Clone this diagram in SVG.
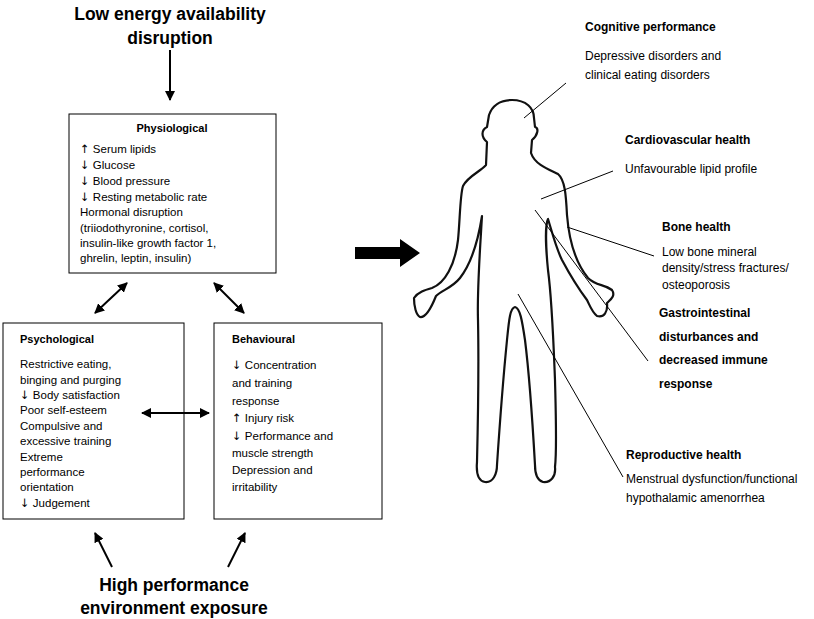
<svg xmlns="http://www.w3.org/2000/svg" width="814" height="619" viewBox="0 0 814 619">
<style>
text{font-family:"Liberation Sans",Arial,sans-serif;fill:#000}
.t{font-size:17.5px;font-weight:bold;text-anchor:middle}
.h{font-size:11px;font-weight:bold}
.b{font-size:11.5px}
.r{font-size:12px}
.rb{font-size:12px;font-weight:bold}
.ar{font-family:"DejaVu Sans",sans-serif;fill:#000}
.box{fill:#fff;stroke:#000;stroke-width:1}
.c{stroke:#000;stroke-width:2;fill:none}
.l{stroke:#000;stroke-width:1;fill:none}
</style>
<defs>
<marker id="a" viewBox="0 0 10 10" refX="9" refY="5" markerWidth="5" markerHeight="5" orient="auto-start-reverse"><path d="M0,0L10,5L0,10z" fill="#000"/></marker>
</defs>
<g id="title-top"><text class="t" x="170" y="20">Low energy availability</text><text class="t" x="170" y="44">disruption</text></g>
<g id="title-bottom"><text class="t" x="174" y="591">High performance</text><text class="t" x="174" y="614">environment exposure</text></g>
<g id="physiological"><rect class="box" x="69" y="114" width="207" height="159"/>
<text class="h" x="172" y="132" text-anchor="middle">Physiological</text>
<text class="b" x="80" y="153"><tspan class="ar">↑</tspan> Serum lipids</text><text class="b" x="80" y="169"><tspan class="ar">↓</tspan> Glucose</text><text class="b" x="80" y="185"><tspan class="ar">↓</tspan> Blood pressure</text><text class="b" x="80" y="201"><tspan class="ar">↓</tspan> Resting metabolic rate</text><text class="b" x="80" y="216">Hormonal disruption</text><text class="b" x="80" y="232">(triiodothyronine, cortisol,</text><text class="b" x="80" y="247">insulin-like growth factor 1,</text><text class="b" x="80" y="262">ghrelin, leptin, insulin)</text></g>
<g id="psychological"><rect class="box" x="3" y="323" width="181" height="196"/>
<text class="h" x="20" y="343">Psychological</text>
<text class="b" x="20" y="368">Restrictive eating,</text><text class="b" x="20" y="384">binging and purging</text><text class="b" x="20" y="399"><tspan class="ar">↓</tspan> Body satisfaction</text><text class="b" x="20" y="414">Poor self-esteem</text><text class="b" x="20" y="430">Compulsive and</text><text class="b" x="20" y="445">excessive training</text><text class="b" x="20" y="461">Extreme</text><text class="b" x="20" y="476">performance</text><text class="b" x="20" y="491">orientation</text><text class="b" x="20" y="507"><tspan class="ar">↓</tspan> Judgement</text></g>
<g id="behavioural"><rect class="box" x="214" y="323" width="168" height="196"/>
<text class="h" x="232" y="343">Behavioural</text>
<text class="b" x="232" y="369"><tspan class="ar">↓</tspan> Concentration</text><text class="b" x="232" y="387">and training</text><text class="b" x="232" y="405">response</text><text class="b" x="232" y="422"><tspan class="ar">↑</tspan> Injury risk</text><text class="b" x="232" y="440"><tspan class="ar">↓</tspan> Performance and</text><text class="b" x="232" y="457">muscle strength</text><text class="b" x="232" y="474">Depression and</text><text class="b" x="232" y="491">irritability</text></g>
<g id="body">
<path d="M512,100 C526,100 534,108 534,118 L535,127 C539,128 538,135 532,140 L531,153 C535,165 550,170 558,174 C565,180 566,195 567,215 C569,240 575,262 588,278 C596,286 604,284 612,290 C616,296 610,300 607,303 C608,312 604,318 597,316 C592,312 590,306 587,300 C578,288 570,275 562,260 C556,248 552,232 548,219 C545,225 546,250 548,270 C552,300 553,330 555,380 C556,420 557,450 555,467 C556,476 551,483 543,482 C536,480 535,472 535,465 C533,430 530,380 525,340 C522,320 520,308 515,307 C510,308 509,320 507,340 C503,380 500,420 497,465 C497,474 493,483 485,482 C478,481 476,474 477,462 C478,420 479,370 478,320 C477,290 480,250 482,216 C479,235 474,260 460,278 C452,288 442,290 436,296 C432,306 426,318 420,317 C416,315 414,306 414,298 C418,292 425,290 432,288 C445,283 455,265 458,240 C460,220 460,195 463,186 C468,176 480,172 486,165 L487,142 C481,137 481,130 487,127 L489,115 C492,106 500,100 512,100 Z" fill="#fff" stroke="#111" stroke-width="2.2" stroke-linejoin="round"/>
</g>
<g id="connectors">
<line class="c" x1="170" y1="50" x2="170" y2="100" marker-end="url(#a)"/>
<line class="c" x1="95" y1="313" x2="127" y2="283" marker-start="url(#a)" marker-end="url(#a)"/>
<line class="c" x1="214" y1="283" x2="244" y2="313" marker-start="url(#a)" marker-end="url(#a)"/>
<line class="c" x1="142" y1="413" x2="209" y2="413" marker-start="url(#a)" marker-end="url(#a)"/>
<line class="c" x1="112" y1="567" x2="95" y2="533" marker-end="url(#a)"/>
<line class="c" x1="228" y1="567" x2="245" y2="533" marker-end="url(#a)"/>
<path d="M355,247 L400,247 L400,239 L420,253 L400,267 L400,259 L355,259 Z" fill="#000"/>
<line class="l" x1="524" y1="118" x2="566" y2="83"/>
<line class="l" x1="541" y1="199" x2="613" y2="171"/>
<line class="l" x1="567" y1="227" x2="654" y2="256"/>
<line class="l" x1="535" y1="210" x2="648" y2="361"/>
<line class="l" x1="518" y1="294" x2="623" y2="477"/>
</g>
<g id="labels">
<text class="rb" x="585" y="31">Cognitive performance</text>
<text class="r" x="585" y="60">Depressive disorders and</text><text class="r" x="585" y="79">clinical eating disorders</text>
<text class="rb" x="625" y="144">Cardiovascular health</text>
<text class="r" x="625" y="173">Unfavourable lipid profile</text>
<text class="rb" x="662" y="231">Bone health</text>
<text class="r" x="662" y="256">Low bone mineral</text><text class="r" x="662" y="272">density/stress fractures/</text><text class="r" x="662" y="289">osteoporosis</text>
<text class="rb" x="659" y="317">Gastrointestinal</text><text class="rb" x="659" y="341">disturbances and</text><text class="rb" x="659" y="364">decreased immune</text><text class="rb" x="659" y="388">response</text>
<text class="rb" x="626" y="459">Reproductive health</text>
<text class="r" x="626" y="483">Menstrual dysfunction/functional</text><text class="r" x="626" y="502">hypothalamic amenorrhea</text>
</g>
</svg>
